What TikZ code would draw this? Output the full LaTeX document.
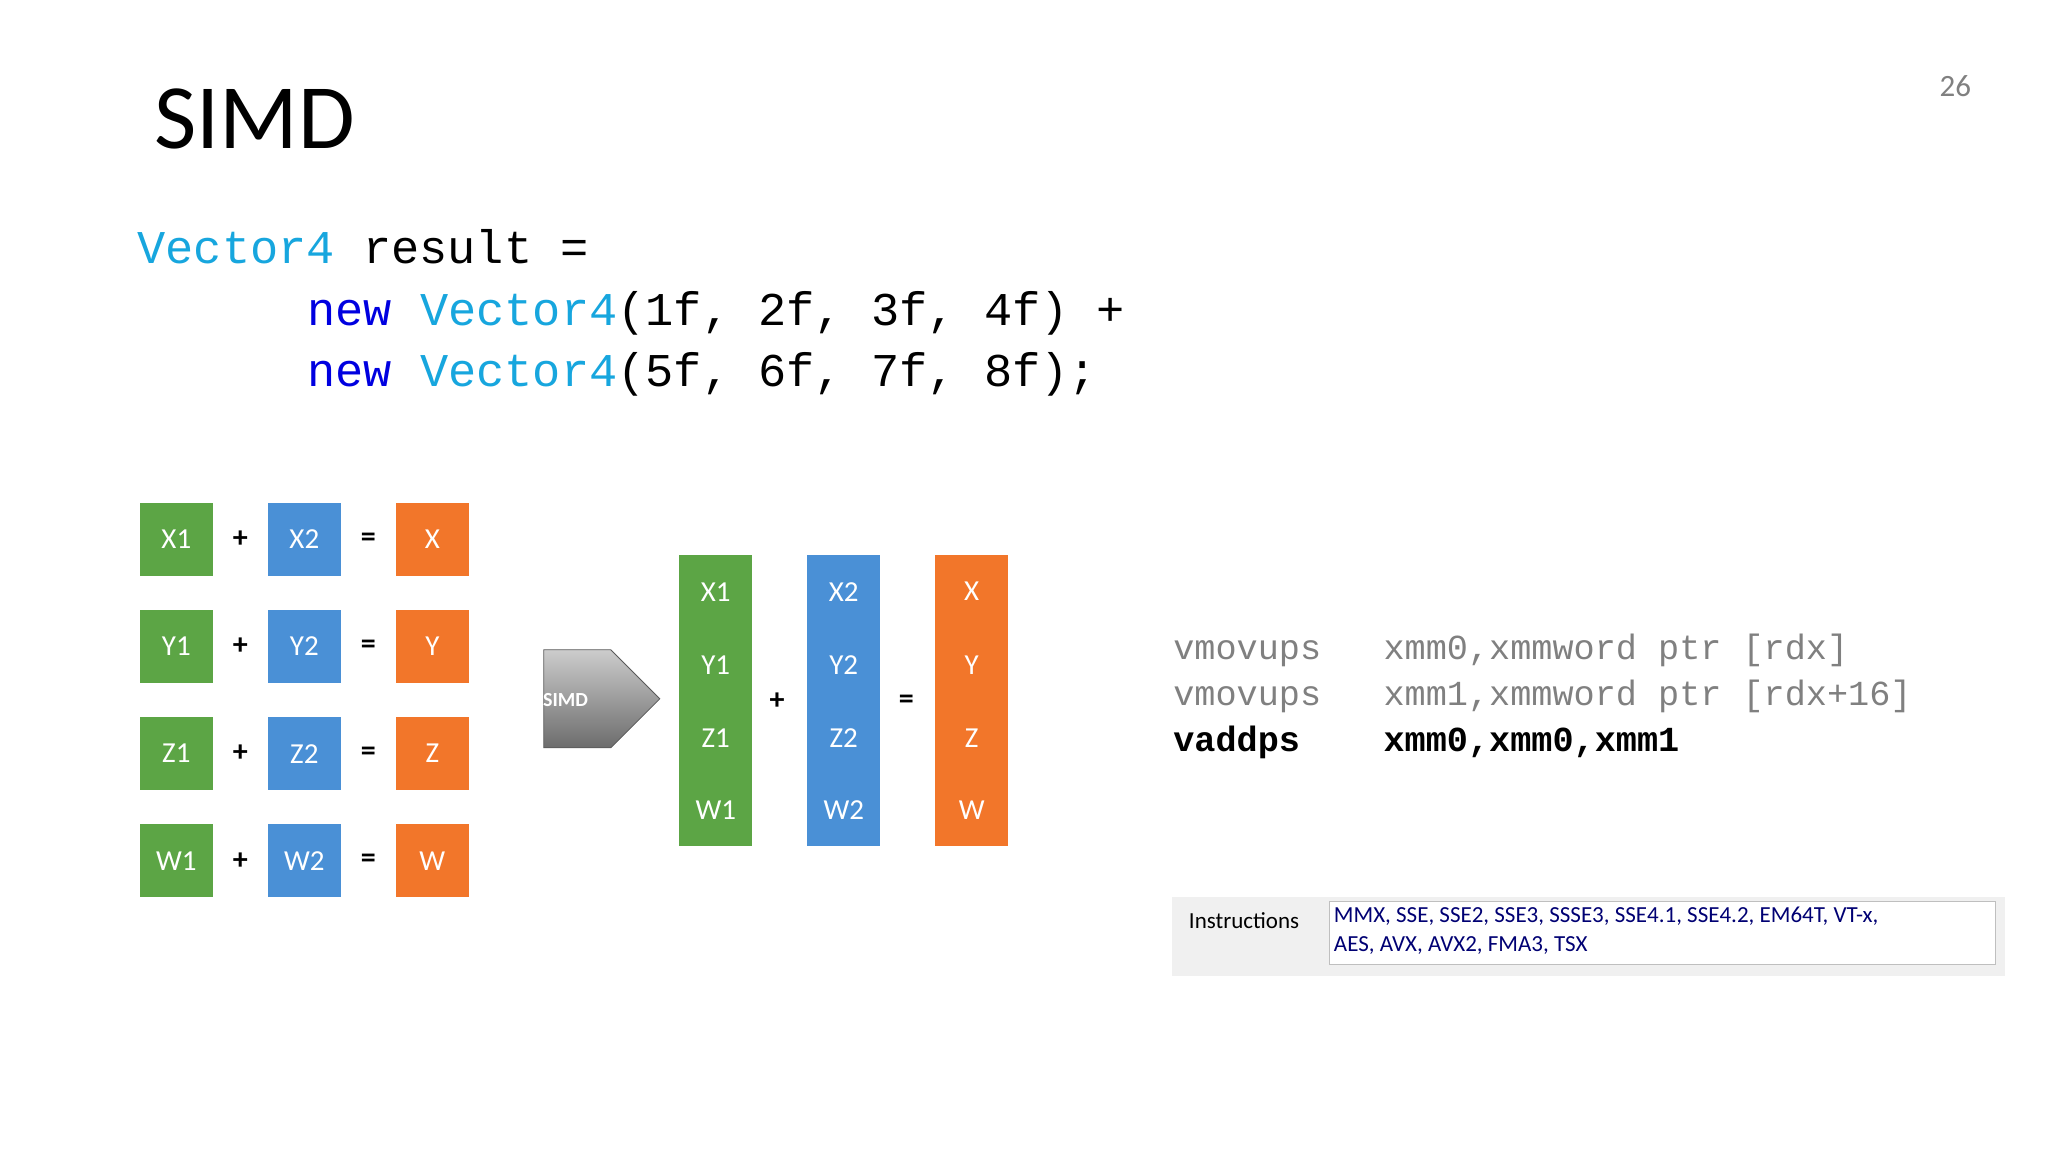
\documentclass[tikz,border=0pt]{standalone}
\usepackage{fontspec}
\setmainfont{Carlito}
\newfontfamily\mono{Liberation Mono}
\usetikzlibrary{shapes.arrows}
\definecolor{gr}{HTML}{5CA545}
\definecolor{bl}{HTML}{4A90D6}
\definecolor{orn}{HTML}{F2762A}
\definecolor{kw}{HTML}{0000E0}
\definecolor{ty}{HTML}{17A6DE}
\definecolor{asm}{HTML}{808080}
\begin{document}
\begin{tikzpicture}[x=0.6531pt,y=-0.6531pt,
 bx/.style={minimum width=36.5pt,minimum height=36.5pt,inner sep=0,text=white,font=\fontsize{14.5}{16}\selectfont},
 g/.style={bx,fill=gr}, b/.style={bx,fill=bl}, o/.style={bx,fill=orn},
 op/.style={font=\bfseries\fontsize{15}{16}\selectfont},
 code/.style={anchor=base west,inner sep=0,font=\mono\fontsize{23.5}{26}\selectfont},
 as/.style={anchor=base west,inner sep=0,font=\mono\fontsize{17.6}{20}\selectfont,text=asm}]
\useasboundingbox (0,0) rectangle (1568,882);
\fill[white] (0,0) rectangle (1568,882);
\node[anchor=base west,inner sep=0,font=\fontsize{46}{50}\selectfont] (title) at (118,114) {SIMD};
\node[font=\fontsize{15.5}{17}\selectfont,text=asm] (pg) at (1497,66) {26};
\node[code] (c1) at (105,202) {\textcolor{ty}{Vector4} result =};
\node[code] (c2) at (235,249) {\textcolor{kw}{new} \textcolor{ty}{Vector4}(1f, 2f, 3f, 4f) +};
\node[code] (c3) at (235,296) {\textcolor{kw}{new} \textcolor{ty}{Vector4}(5f, 6f, 7f, 8f);};
% left grid
\foreach \n/\a/\bb/\c/\y in {1/X1/X2/X/413,2/Y1/Y2/Y/495,3/Z1/Z2/Z/577,4/W1/W2/W/659}{
 \node[g] (l\n) at (135,\y) {\a};
 \node[op] (p\n) at (184,\y) {+};
 \node[b] (m\n) at (233,\y) {\bb};
 \node[op] (e\n) at (282,\y) {=};
 \node[o] (r\n) at (331,\y) {\c};
}
% arrow
\node[single arrow,draw=gray!70!black,top color=gray!40,bottom color=gray!85!black,minimum height=58pt,minimum width=49pt,single arrow head extend=0pt,single arrow tip angle=90,inner sep=0,text=white,font=\bfseries\fontsize{10}{11}\selectfont,shape border uses incircle] (ar) at (442,535) {};
\node[text=white,font=\bfseries\fontsize{10}{11}\selectfont] (arl) at (433,536) {SIMD};
% right grid
\foreach \n/\a/\bb/\c/\y in {1/X1/X2/X/453,2/Y1/Y2/Y/509,3/Z1/Z2/Z/565,4/W1/W2/W/620}{
 \node[g] (L\n) at (548,\y) {\a};
 \node[b] (M\n) at (646,\y) {\bb};
 \node[o] (R\n) at (744,\y) {\c};
}
\node[op] (pp) at (595,537) {+};
\node[op] (ee) at (694,537) {=};
% asm
\node[as] (a1) at (898,505) {vmovups};
\node[as] (b1) at (1059,505) {xmm0,xmmword ptr [rdx]};
\node[as] (a2) at (898,540) {vmovups};
\node[as] (b2) at (1059,540) {xmm1,xmmword ptr [rdx+16]};
\node[as,text=black,font=\mono\bfseries\fontsize{17.6}{20}\selectfont] (a3) at (898,575) {vaddps};
\node[as,text=black,font=\mono\bfseries\fontsize{17.6}{20}\selectfont] (b3) at (1059,575) {xmm0,xmm0,xmm1};
% instructions
\fill[gray!12] (897,687) rectangle (1535,747);
\draw[gray!50,fill=white] (1018,690) rectangle (1528,738);
\node[anchor=west,inner sep=0,font=\fontsize{11.5}{13}\selectfont] (il) at (910,705) {Instructions};
\node[anchor=north west,inner sep=0,align=left,text=blue!45!black,font=\fontsize{11.5}{14.5}\selectfont] (it) at (1021,694) {MMX, SSE, SSE2, SSE3, SSSE3, SSE4.1, SSE4.2, EM64T, VT-x,\\AES, AVX, AVX2, FMA3, TSX};
\end{tikzpicture}
\end{document}
